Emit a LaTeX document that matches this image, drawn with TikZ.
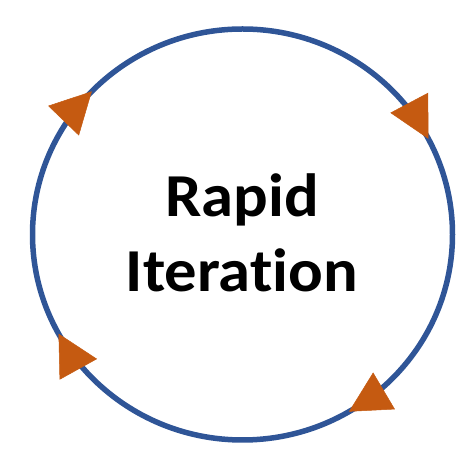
\documentclass[tikz,border=0pt]{standalone}
\usepackage{fontspec}
\setmainfont[Ligatures={NoCommon}]{Carlito}
\definecolor{ringblue}{HTML}{2F5597}
\definecolor{arroworange}{HTML}{C55A11}
\tikzset{
  ring/.style={draw=ringblue, line width=5.5pt},
  arrowhead/.style={fill=arroworange, draw=arroworange, line width=0.5pt, line join=miter},
  bigtext/.style={font=\bfseries\fontsize{61}{75}\selectfont, anchor=base, inner sep=0pt, xscale=1.06, transform shape}
}
\newcommand{\cwhead}[1]{%
  \begin{scope}[shift={({242.5+210*cos(#1)},{225.5+205.5*sin(#1)})}, rotate={#1-90}]
    \fill[arrowhead] (0,0) -- (-40,21) -- (-40,-21) -- cycle;
  \end{scope}}
\begin{document}
\begin{tikzpicture}[x=1pt,y=1pt]
  \useasboundingbox (0,0) rectangle (474,460);
  \coordinate (c) at (242.5,225.5);
  \draw[ring] (c) ellipse [x radius=210, y radius=205.5];
  \cwhead{136}
  \cwhead{27.9}
  \cwhead{209}
  \cwhead{-59.4}
  \node[bigtext] (l1) at (242,243) {Rapid};
  \node[bigtext] (l2) at (242,168) {Iteration};
\end{tikzpicture}
\end{document}
